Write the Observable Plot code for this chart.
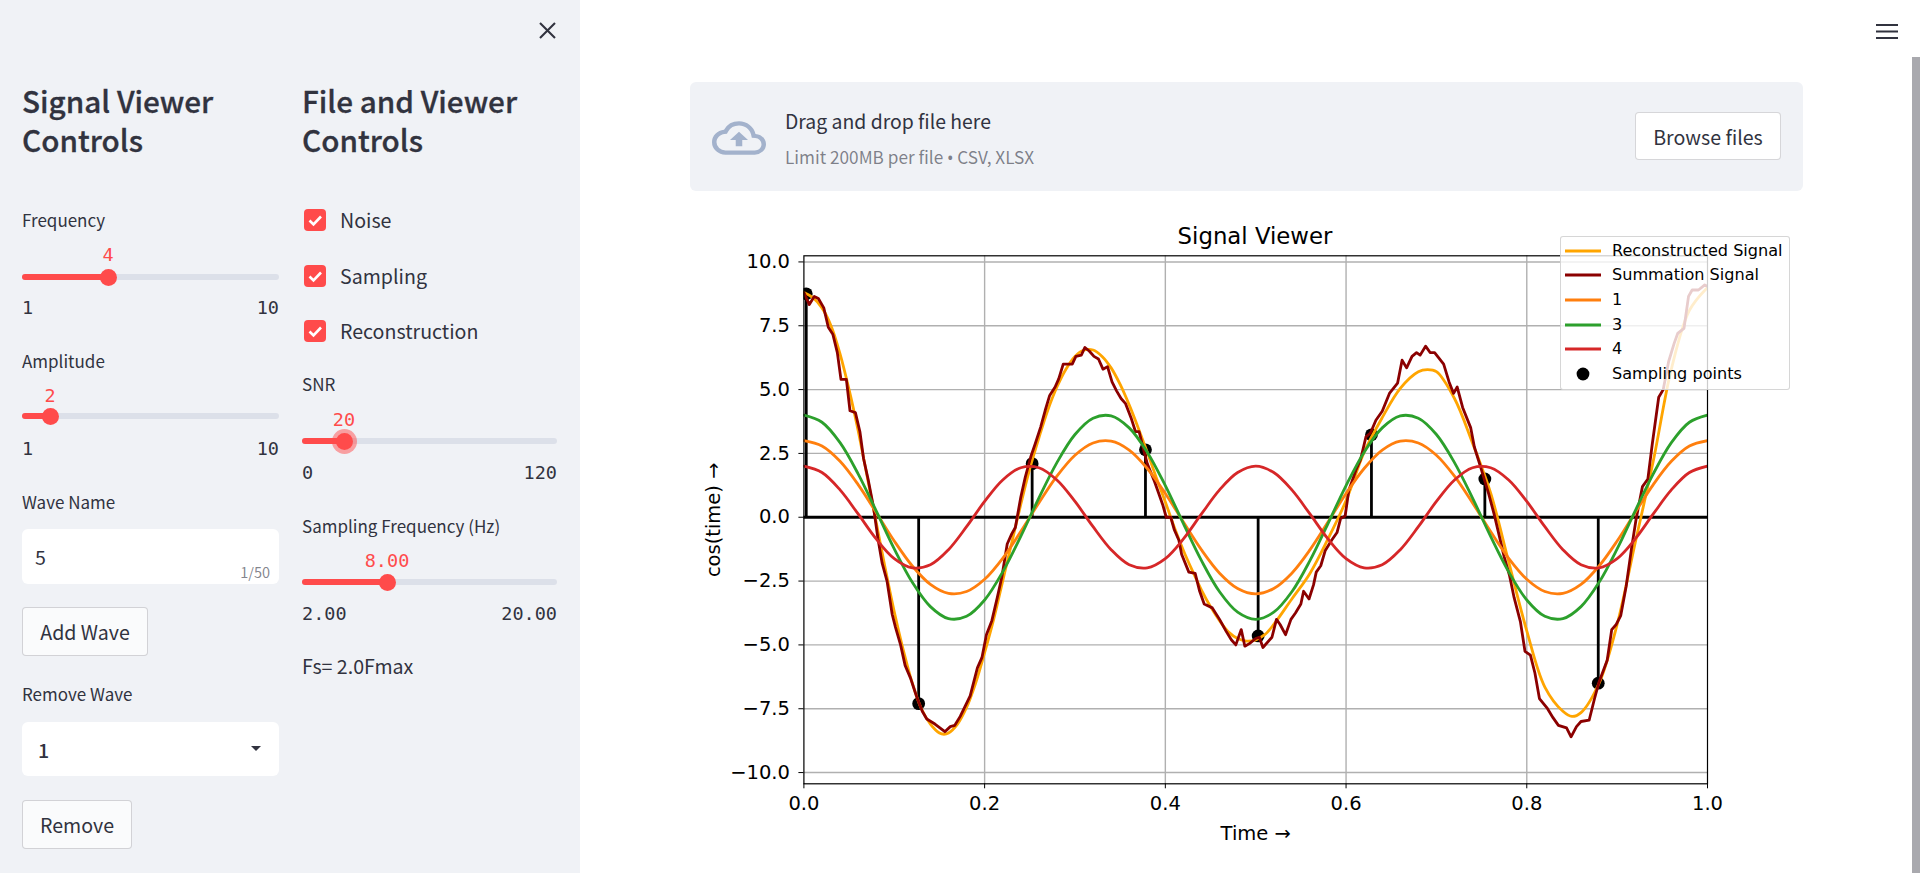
<!DOCTYPE html>
<html><head><meta charset="utf-8">
<script src="https://cdn.jsdelivr.net/npm/d3@7"></script>
<script src="https://cdn.jsdelivr.net/npm/@observablehq/plot@0.6"></script>
<style>
html,body{margin:0;padding:0;background:#fff;overflow:hidden}
#root{position:relative;width:1920px;height:873px;overflow:hidden;font-family:"Noto Sans CJK SC","Noto Sans",sans-serif;color:#31333f}
#side{position:absolute;left:0;top:0;width:580px;height:873px;background:#f0f2f6}
.t{position:absolute;white-space:nowrap;transform:translateY(-50%);line-height:1.2}
.m{font-family:"DejaVu Sans Mono",monospace}
.b{position:absolute;box-sizing:border-box}
.btn{position:absolute;box-sizing:border-box;border:1px solid rgba(49,51,63,.2);border-radius:4px;background:#fafbfc;display:flex;align-items:center;justify-content:center;font-size:19.6px}
#chart{position:absolute;left:700px;top:230px}
#chart svg{overflow:visible;background:transparent}
#legend{position:absolute;left:1560px;top:236px;width:230px;height:154px;box-sizing:border-box;background:rgba(255,255,255,.8);border:1px solid rgba(204,204,204,.8);border-radius:3px;font-family:"DejaVu Sans",sans-serif;font-size:16.1px;color:#000}
#title{position:absolute;left:1255px;top:236px;transform:translate(-50%,-50%);font-family:"DejaVu Sans",sans-serif;font-size:22.8px;color:#000;white-space:nowrap}
</style></head><body>
<div id="root"><div id="side"></div></div>
<script>
// ---- data ----
const waveT = [0,.02,.04,.06,.08,.10,.12,.14,.16,.18,.20,.22,.24,.26,.28,.30,.32,.34,.36,.38,.40,.42,.44,.46,.48,.50,.52,.54,.56,.58,.60,.62,.64,.66,.68,.70,.72,.74,.76,.78,.80,.82,.84,.86,.88,.90,.92,.94,.96,.98,1];
const wave1 = [3,2.79,2.19,1.28,.19,-.93,-1.91,-2.63,-2.98,-2.91,-2.43,-1.61,-.56,.56,1.61,2.43,2.91,2.98,2.63,1.91,.93,-.19,-1.28,-2.19,-2.79,-3,-2.79,-2.19,-1.28,-.19,.93,1.91,2.63,2.98,2.91,2.43,1.61,.56,-.56,-1.61,-2.43,-2.91,-2.98,-2.63,-1.91,-.93,.19,1.28,2.19,2.79,3];
const wave3 = [4,3.72,2.92,1.70,.25,-1.24,-2.55,-3.50,-3.97,-3.88,-3.24,-2.14,-.75,.75,2.14,3.24,3.88,3.97,3.50,2.55,1.24,-.25,-1.70,-2.92,-3.72,-4,-3.72,-2.92,-1.70,-.25,1.24,2.55,3.50,3.97,3.88,3.24,2.14,.75,-.75,-2.14,-3.24,-3.88,-3.97,-3.50,-2.55,-1.24,.25,1.70,2.92,3.72,4];
const wave4 = [2,1.75,1.07,.13,-.85,-1.62,-1.98,-1.86,-1.27,-.37,.62,1.46,1.94,1.94,1.46,.62,-.37,-1.27,-1.86,-1.98,-1.62,-.85,.13,1.07,1.75,2,1.75,1.07,.13,-.85,-1.62,-1.98,-1.86,-1.27,-.37,.62,1.46,1.94,1.94,1.46,.62,-.37,-1.27,-1.86,-1.98,-1.62,-.85,.13,1.07,1.75,2];
const sumT = [0,.006,.0115,.016,.022,.027,.032,.037,.041,.047,.051,.057,.062,.066,.071,.077,.082,.0866,.092,.0977,.1013,.107,.112,.118,.125,.131,.136,.145,.156,.162,.167,.173,.184,.192,.197,.202,.208,.214,.219,.225,.230,.234,.240,.245,.251,.256,.262,.267,.272,.278,.282,.287,.292,.297,.301,.307,.311,.316,.321,.326,.331,.336,.341,.346,.351,.356,.362,.367,.371,.377,.38,.388,.393,.397,.401,.406,.41,.415,.418,.426,.433,.438,.443,.452,.46,.467,.473,.478,.484,.488,.493,.5,.504,.508,.518,.523,.527,.533,.539,.544,.55,.553,.559,.564,.567,.572,.577,.584,.59,.594,.599,.603,.611,.616,.622,.627,.633,.64,.648,.657,.662,.667,.673,.678,.682,.688,.693,.698,.708,.714,.719,.723,.729,.738,.742,.749,.758,.764,.77,.775,.781,.786,.793,.798,.804,.809,.814,.823,.829,.835,.844,.849,.855,.86,.869,.875,.88,.889,.894,.899,.904,.91,.916,.921,.928,.934,.939,.946,.951,.957,.963,.967,.974,.979,.983,.99,.997,1];
const sumV = [8.8,8.33,8.65,8.57,8.2,7.44,7.17,6.45,5.4,5.4,4.17,4.1,3.35,2.3,1.5,.4,-.85,-1.8,-2.5,-3.8,-4.3,-5,-5.8,-6.3,-7.05,-7.6,-7.9,-8.1,-8.4,-8.2,-8.15,-7.8,-7,-5.9,-5.5,-4.6,-4.05,-3.15,-2.35,-1.05,-.65,-.4,.78,1.57,2.36,2.88,3.53,4.18,4.77,5.1,5.42,6,6,6,6.3,6.35,6.65,6.5,6.3,6.2,5.8,5.9,5.3,4.95,4.65,4.45,3.9,3.35,3.35,2.5,2.1,1.4,.9,.5,0,0,-.5,-.9,-1.45,-2.15,-2.2,-2.9,-3.4,-3.55,-4,-4.45,-4.8,-5,-4.4,-5.05,-4.95,-4.75,-4.7,-5.1,-4.7,-4,-4.2,-4.6,-4,-3.75,-3.4,-2.9,-3.2,-2.65,-2.15,-1.9,-1.3,-.9,-.6,-.05,.05,1.05,1.85,2.25,3.15,3.3,3.8,4.15,4.85,5.25,6.15,5.85,6.3,6.45,6.35,6.7,6.45,6.45,6,5.3,4.85,5.1,4.3,3.5,2.75,1.95,.9,.1,-.8,-1.55,-2.3,-3.15,-4.1,-5.25,-5.4,-6.1,-7.1,-7.5,-7.85,-8.15,-8.25,-8.6,-8.2,-8,-7.95,-7.1,-6.45,-5.6,-4.4,-4.2,-3.85,-2.7,-1.2,-.07,1.2,1.5,2.9,4.7,5,6.1,6.8,7.2,7.4,8.65,8.9,8.9,9.1,9.05];
const reconT = [0,.01,.02,.03,.04,.05,.06,.07,.08,.09,.10,.11,.12,.13,.14,.15,.155,.16,.17,.18,.19,.20,.21,.22,.23,.24,.25,.26,.27,.28,.29,.30,.31,.32,.33,.34,.35,.36,.37,.38,.39,.40,.41,.42,.43,.44,.45,.46,.47,.48,.49,.50,.51,.52,.54,.56,.58,.60,.62,.64,.66,.68,.69,.70,.72,.74,.76,.78,.80,.82,.84,.85,.86,.88,.90,.92,.94,.96,.98,1];
const reconV = [8.8,8.6,8.2,7.5,6.4,5,3.4,1.6,-.2,-2,-3.7,-5.2,-6.5,-7.5,-8.1,-8.45,-8.5,-8.45,-8.1,-7.45,-6.5,-5.3,-4,-2.5,-1,.5,1.9,3.1,4.2,5.1,5.8,6.3,6.55,6.55,6.3,5.85,5.2,4.4,3.5,2.55,1.55,.6,-.4,-1.3,-2.1,-2.85,-3.5,-4.05,-4.5,-4.75,-4.85,-4.8,-4.6,-4.2,-3.2,-2.2,-.85,.65,2.55,3.9,5.05,5.7,5.78,5.7,4.65,2.9,.95,-1.75,-4.45,-6.65,-7.6,-7.8,-7.65,-6.5,-4.2,-1,2.2,5.8,8.1,9];
const sampleT = [.0026,.127,.2526,.378,.5027,.6281,.7536,.8791];
const sampleV = [8.75,-7.3,2.1,2.64,-4.65,3.23,1.5,-6.5];
const xTicks = [0,.2,.4,.6,.8,1];
const yTicks = [-10,-7.5,-5,-2.5,0,2.5,5,7.5,10];
const legendNames = ["Reconstructed Signal","Summation Signal","1","3","4","Sampling points"];
const legendColors = ["#ffa500","#8b0000","#ff7f0e","#2ca02c","#d62728","#000"];

const LW = 2.8;
const zip = (xs, ys) => xs.map((x,i)=>({x, y:ys[i]}));
const line = (xs, ys, stroke, curve="catmull-rom") => Plot.line(zip(xs,ys),{x:"x",y:"y",stroke,strokeWidth:LW,curve,clip:true,strokeLinejoin:"round"});

const chart = Plot.plot({
  width:1110, height:630,
  marginLeft:103.4, marginRight:103, marginTop:25.3, marginBottom:76.7,
  style:{background:"transparent",fontFamily:"DejaVu Sans, sans-serif",color:"#000"},
  x:{domain:[0,1]},
  y:{domain:[-10.44,10.24]},
  marks:[
    Plot.ruleX(xTicks.slice(1,-1),{stroke:"#b0b0b0",strokeWidth:1.4}),
    Plot.ruleY(yTicks,{stroke:"#b0b0b0",strokeWidth:1.4}),
    Plot.ruleX(zip(sampleT,sampleV),{x:"x",y1:0,y2:"y",stroke:"#000",strokeWidth:2.8,clip:true}),
    Plot.ruleY([0],{stroke:"#000",strokeWidth:2.8}),
    Plot.dot(zip(sampleT,sampleV),{x:"x",y:"y",r:6.4,fill:"#000",clip:true}),
    line(reconT,reconV,legendColors[0]),
    line(sumT,sumV,legendColors[1],"linear"),
    line(waveT,wave1,legendColors[2]),
    line(waveT,wave3,legendColors[3]),
    line(waveT,wave4,legendColors[4]),
    Plot.frame({stroke:"#000",strokeWidth:1.2}),
    Plot.axisX({ticks:xTicks,tickFormat:d3.format(".1f"),fontSize:19.5,tickSize:5,tickPadding:7,label:"Time →",labelAnchor:"center",labelArrow:"none",labelOffset:56}),
    Plot.axisY({ticks:yTicks,tickFormat:d3.format(".1f"),fontSize:19.5,tickSize:5,tickPadding:9,label:"cos(time) →",labelAnchor:"center",labelArrow:"none",labelOffset:98})
  ]
});
const root = document.getElementById("root");
const wrap = document.createElement("div"); wrap.id="chart"; wrap.appendChild(chart); root.appendChild(wrap);

// ---- page furniture ----
const el=(cls,css,html="")=>{const d=document.createElement("div");d.className=cls;d.style.cssText=css;d.innerHTML=html;root.appendChild(d);return d;};
const t=(x,y,s,css="")=>el("t",`left:${x}px;top:${y}px;font-size:17px;${css}`,s);
const RED="#ff4b4b";
const slider=(x0,x1,y,tx,val,lo,hi,dy,ly,halo)=>{
  el("b",`left:${x0}px;top:${y-3}px;width:${x1-x0}px;height:6px;border-radius:3px;background:#dce0e9`);
  el("b",`left:${x0}px;top:${y-3}px;width:${tx-x0}px;height:6px;border-radius:3px 0 0 3px;background:${RED}`);
  if(halo) el("b",`left:${tx-12.5}px;top:${y-12.5}px;width:25px;height:25px;border-radius:50%;background:rgba(255,75,75,.5)`);
  el("b",`left:${tx-8.5}px;top:${y-8.5}px;width:17px;height:17px;border-radius:50%;background:${RED}`);
  el("t m",`left:${tx}px;top:${dy}px;font-size:18.5px;color:${RED};transform:translate(-50%,-50%)`,val);
  el("t m",`left:${x0}px;top:${ly}px;font-size:18.5px;color:#31333f`,lo);
  el("t m",`right:${1920-x1}px;top:${ly}px;font-size:18.5px;color:#31333f`,hi);
};
const H="font-size:29.7px;font-weight:500;line-height:39px;-webkit-text-stroke:.3px #31333f;";
el("t",`left:22px;top:119.5px;${H}`,"Signal Viewer<br>Controls");
el("t",`left:302px;top:119.5px;${H}`,"File and Viewer<br>Controls");
el("b","left:538px;top:21px;width:19px;height:19px",'<svg width="19" height="19" viewBox="0 0 19 19"><path d="M2 2L17 17M17 2L2 17" stroke="#31333f" stroke-width="2.1"/></svg>');
t(22,220,"Frequency"); slider(22,279,277,108,"4","1","10",255,308);
t(22,361,"Amplitude"); slider(22,279,416,50,"2","1","10",396,449);
t(22,502,"Wave Name");
el("b","left:22px;top:529px;width:257px;height:55px;background:#fff;border-radius:6px");
t(35,557,"5","font-size:19.6px");
el("t","right:1650px;top:572px;font-size:14.5px;color:rgba(49,51,63,.6)","1/50");
el("btn","left:22px;top:607px;width:126px;height:49px","Add Wave");
t(22,694,"Remove Wave");
el("b","left:22px;top:722px;width:257px;height:54px;background:#fff;border-radius:6px");
t(38,750,"1","font-size:19.6px;font-weight:500");
el("b","left:251px;top:746px;width:0;height:0;border-left:5px solid transparent;border-right:5px solid transparent;border-top:5.5px solid #31333f");
el("btn","left:22px;top:800px;width:110px;height:49px","Remove");
[["Noise",220],["Sampling",276],["Reconstruction",331]].forEach(([s,y])=>{
  el("b",`left:304px;top:${y-11}px;width:22px;height:22px;border-radius:4px;background:${RED}`,'<svg width="22" height="22" viewBox="0 0 22 22"><path d="M5.5 11.5L9.5 15.5L17 7.5" fill="none" stroke="#fff" stroke-width="2.6"/></svg>');
  t(340,y,s,"font-size:19.6px");
});
t(302,384,"SNR"); slider(302,557,441,344,"20","0","120",420,473,true);
t(302,526,"Sampling Frequency (Hz)"); slider(302,557,582,387,"8.00","2.00","20.00",561,614);
t(302,666,"Fs= 2.0Fmax","font-size:19.6px");

el("b","left:690px;top:82px;width:1113px;height:109px;background:#f0f2f6;border-radius:6px");
el("b","left:712px;top:113px;width:54px;height:50px",'<svg width="54" height="50" viewBox="0 0 24 24" preserveAspectRatio="none"><path fill="#a3b2cc" d="M19.35 10.04A7.49 7.49 0 0 0 12 4a7.5 7.5 0 0 0-6.65 4.04A6 6 0 0 0 0 14a6 6 0 0 0 6 6h13a5 5 0 0 0 5-5c0-2.64-2.05-4.78-4.65-4.96zM19 18H6a4 4 0 0 1-4-4c0-2.05 1.53-3.76 3.56-3.97l1.07-.11.5-.95A5.47 5.47 0 0 1 12 6c2.62 0 4.88 1.86 5.39 4.43l.3 1.5 1.53.11A2.98 2.98 0 0 1 22 15c0 1.65-1.35 3-3 3zM8 13h2.55v3h2.9v-3H16l-4-4z"/></svg>');
t(785,121,"Drag and drop file here","font-size:19.4px");
t(785,158,'Limit 200MB per file <span style="font-family:\'Noto Sans\'">•</span> CSV, XLSX',"font-size:17.2px;color:rgba(49,51,63,.6)");
el("btn","left:1635px;top:112px;width:146px;height:48px;background:#fff","Browse files");
el("b","left:1876px;top:21px;width:22px;height:17px",'<svg width="22" height="17" viewBox="0 0 22 17"><path d="M0 2H22M0 8.5H22M0 15H22" stroke="#31333f" stroke-width="2.2"/></svg>');
el("b","left:1912px;top:57px;width:8px;height:816px;background:#a9a9ae");

el("","","").id="title"; document.getElementById("title").textContent="Signal Viewer";

// legend
const lg=el("","","");lg.id="legend";
legendNames.forEach((n,i)=>{
  const y=13.5+i*24.7;
  const sw=i<5?`<svg style="position:absolute;left:4px;top:${y-5}px" width="36" height="10"><line x1="0" x2="36" y1="5" y2="5" stroke="${legendColors[i]}" stroke-width="${LW}"/></svg>`
              :`<svg style="position:absolute;left:4px;top:${y-8}px" width="36" height="16"><circle cx="18" cy="8" r="6.4" fill="#000"/></svg>`;
  lg.insertAdjacentHTML("beforeend",sw+`<div class="t" style="left:51px;top:${y}px">${n}</div>`);
});
</script>
</body></html>
